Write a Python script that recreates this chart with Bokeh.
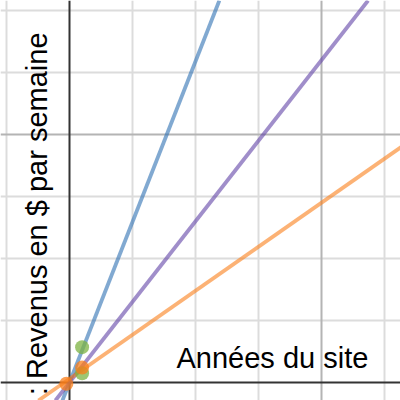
import math
from bokeh.plotting import figure
from bokeh.models import Range1d, Span, Slope, Grid, FixedTicker
from bokeh.core.properties import value
from bokeh.embed import file_html
from bokeh.resources import INLINE

# ---- data ----
x_minor = [-5, 5, 10, 15, 25]
x_major = [20]
y_minor = [50, 100, 150, 250, 300]
y_major = [200]

orange_pts_x = [-0.25, 1.0]
orange_pts_y = [-1.0, 12.0]
green_pts_x = [1.0, 1.0]
green_pts_y = [28.5, 7.5]

line_slopes = [25.9, 13.0, 7.1]
line_intercepts = [0.0, 0.0, 3.0]
line_colors = ["#2d70b3", "#6042a6", "#fa7e19"]

x_label = "Années du site"
y_label = ": Revenus en $ par semaine"

# ---- figure ----
p = figure(width=400, height=400, output_backend="svg", toolbar_location=None,
           x_range=Range1d(-5.476, 26.27), y_range=Range1d(-14.52, 308.06),
           min_border=0, min_border_left=0, min_border_right=0,
           min_border_top=0, min_border_bottom=0)
p.xaxis.visible = False
p.yaxis.visible = False
p.xgrid.visible = False
p.ygrid.visible = False
p.outline_line_color = None
p.background_fill_color = "white"
p.border_fill_color = "white"

minor_col = "#dcdcdc"
major_col = "#b4b4b4"
p.add_layout(Grid(dimension=0, ticker=FixedTicker(ticks=x_minor),
                  grid_line_color=minor_col, grid_line_width=2))
p.add_layout(Grid(dimension=1, ticker=FixedTicker(ticks=y_minor),
                  grid_line_color=minor_col, grid_line_width=2))
p.add_layout(Grid(dimension=0, ticker=FixedTicker(ticks=x_major),
                  grid_line_color=major_col, grid_line_width=2))
p.add_layout(Grid(dimension=1, ticker=FixedTicker(ticks=y_major),
                  grid_line_color=major_col, grid_line_width=2))

p.add_layout(Span(location=0, dimension="height", line_color="#333333", line_width=2, level="underlay"))
p.add_layout(Span(location=0, dimension="width", line_color="#333333", line_width=2, level="underlay"))

# labels
p.text(x=[8.49], y=[19.4], text=[x_label], text_font=value("Liberation Sans"),
       text_font_size="29px", text_color="black", text_align="left",
       text_baseline="alphabetic")
p.text(x=[-2.58], y=[282.3], text=[y_label], text_font=value("Liberation Sans"),
       text_font_size="29px", text_color="black", text_align="right",
       text_baseline="alphabetic", angle=math.pi / 2)

# lines
for s, b, c in zip(line_slopes, line_intercepts, line_colors):
    p.add_layout(Slope(gradient=s, y_intercept=b, line_color=c, line_alpha=0.6,
                       line_width=3.8))

# points
g = p.scatter(green_pts_x, green_pts_y, size=14, fill_color="#7cb342", fill_alpha=0.75,
              line_color=None)
o = p.scatter(orange_pts_x, orange_pts_y, size=14, fill_color="#fa7e19", fill_alpha=0.75,
              line_color=None)
g.level = "overlay"
o.level = "overlay"

open("out.html", "w").write(file_html(p, INLINE))
